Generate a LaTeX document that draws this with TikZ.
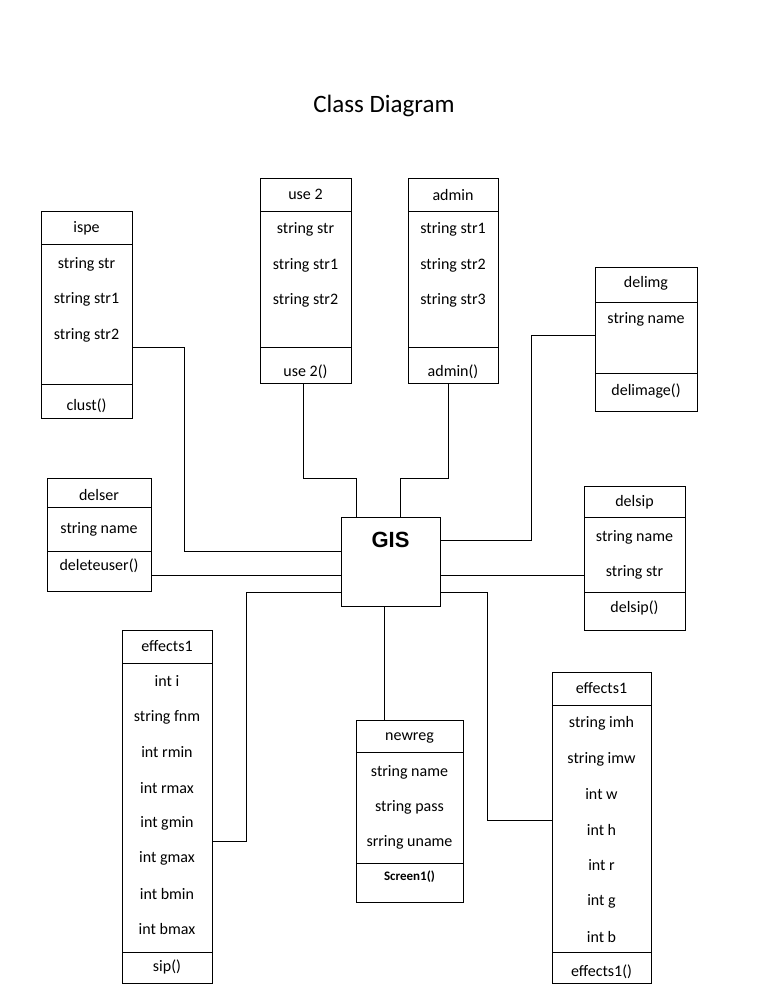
\documentclass[tikz,border=0pt]{standalone}
\usepackage{fontspec}
\setmainfont{Carlito}
\newfontfamily\gisfont{Liberation Sans}
\usetikzlibrary{positioning}

\begin{document}
\begin{tikzpicture}[
    x=1pt, y=-1pt,
    line width=1pt,
    every node/.style={font=\fontsize{16}{19}\selectfont},
    cls/.style={rectangle, draw, inner sep=0pt, outer sep=0pt, fill=white},
    txt/.style={inner sep=1pt, anchor=center, yshift=-1.5pt},
    link/.style={draw, line width=1pt}
]
\useasboundingbox (0,0) rectangle (768,994);

% Titel
\node[font=\fontsize{25}{29}\selectfont] (title) at (384,106) {Class Diagram};

% Klassen
\node[cls, minimum width=99pt, minimum height=89pt] (gis) at (390.5,561.5) {};
\node[txt, font=\gisfont\bfseries\fontsize{22}{26}\selectfont] (gis-h) at (390.5,538) {GIS};

\node[cls, minimum width=91pt, minimum height=207pt] (ispe) at (86.5,314.5) {};
\node[txt] (ispe-h) at (86.5,227) {ispe};
\foreach \attr [count=\i] in {string str, string str1, string str2}
  \node[txt] (ispe-\i) at (86.5,{263+35.2*(\i-1)}) {\attr};
\node[txt] (ispe-m) at (86.5,404) {clust()};
\draw (ispe.west |- 0,244) -- (ispe.east |- 0,244) (ispe.west |- 0,384) -- (ispe.east |- 0,384);

\node[cls, minimum width=91pt, minimum height=205pt] (use2) at (305.5,280.5) {};
\node[txt] (use2-h) at (305.5,193) {use 2};
\foreach \attr [count=\i] in {string str, string str1, string str2}
  \node[txt] (use2-\i) at (305.5,{228+35.5*(\i-1)}) {\attr};
\node[txt] (use2-m) at (305.5,370) {use 2()};
\draw (use2.west |- 0,211) -- (use2.east |- 0,211) (use2.west |- 0,347) -- (use2.east |- 0,347);

\node[cls, minimum width=90pt, minimum height=205pt] (admin) at (453,280.5) {};
\node[txt] (admin-h) at (453,193) {admin};
\foreach \attr [count=\i] in {string str1, string str2, string str3}
  \node[txt] (admin-\i) at (453,{228+35.5*(\i-1)}) {\attr};
\node[txt] (admin-m) at (453,370) {admin()};
\draw (admin.west |- 0,211) -- (admin.east |- 0,211) (admin.west |- 0,347) -- (admin.east |- 0,347);

\node[cls, minimum width=102pt, minimum height=144pt] (delimg) at (646,339) {};
\node[txt] (delimg-h) at (646,282) {delimg};
\node[txt] (delimg-1) at (646,318) {string name};
\node[txt] (delimg-m) at (646,390) {delimage()};
\draw (delimg.west |- 0,302) -- (delimg.east |- 0,302) (delimg.west |- 0,373) -- (delimg.east |- 0,373);

\node[cls, minimum width=104pt, minimum height=113pt] (delser) at (99,534.5) {};
\node[txt] (delser-h) at (99,493) {delser};
\node[txt] (delser-1) at (99,528) {string name};
\node[txt] (delser-m) at (99,564) {deleteuser()};
\draw (delser.west |- 0,507) -- (delser.east |- 0,507) (delser.west |- 0,551) -- (delser.east |- 0,551);

\node[cls, minimum width=101pt, minimum height=144pt] (delsip) at (634.5,558) {};
\node[txt] (delsip-h) at (634.5,501) {delsip};
\foreach \attr [count=\i] in {string name, string str}
  \node[txt] (delsip-\i) at (634.5,{536+35*(\i-1)}) {\attr};
\node[txt] (delsip-m) at (634.5,606) {delsip()};
\draw (delsip.west |- 0,517) -- (delsip.east |- 0,517) (delsip.west |- 0,592) -- (delsip.east |- 0,592);

\node[cls, minimum width=90pt, minimum height=353pt] (effl) at (167,806.5) {};
\node[txt] (effl-h) at (167,645) {effects1};
\foreach \attr [count=\i] in {int i, string fnm, int rmin, int rmax, int gmin, int gmax, int bmin, int bmax}
  \node[txt] (effl-\i) at (167,{680+35.4*(\i-1)}) {\attr};
\node[txt] (effl-m) at (167,965) {sip()};
\draw (effl.west |- 0,663) -- (effl.east |- 0,663) (effl.west |- 0,952) -- (effl.east |- 0,952);

\node[cls, minimum width=107pt, minimum height=182pt] (newreg) at (409.5,811) {};
\node[txt] (newreg-h) at (409.5,736) {newreg};
\foreach \attr [count=\i] in {string name, string pass, srring uname}
  \node[txt] (newreg-\i) at (409.5,{771+35*(\i-1)}) {\attr};
\node[txt, font=\bfseries\fontsize{13}{16}\selectfont] (newreg-m) at (409.5,875) {Screen1()};
\draw (newreg.west |- 0,752) -- (newreg.east |- 0,752) (newreg.west |- 0,863) -- (newreg.east |- 0,863);

\node[cls, minimum width=99pt, minimum height=311pt] (effr) at (601.5,827.5) {};
\node[txt] (effr-h) at (601.5,687) {effects1};
\foreach \attr [count=\i] in {string imh, string imw, int w, int h, int r, int g, int b}
  \node[txt] (effr-\i) at (601.5,{722+35.5*(\i-1)}) {\attr};
\node[txt] (effr-m) at (601.5,970) {effects1()};
\draw (effr.west |- 0,705) -- (effr.east |- 0,705) (effr.west |- 0,952) -- (effr.east |- 0,952);

% Linien
\draw[link] (ispe.east |- 0,347) -| (184,551) -- (gis.west |- 0,551);
\draw[link] (use2.south -| 303,0) |- (356,478) -- (gis.north -| 356,0);
\draw[link] (admin.south -| 448,0) |- (400,478) -- (gis.north -| 400,0);
\draw[link] (delimg.west |- 0,335) -| (531,540) -- (gis.east |- 0,540);
\draw[link] (delser.east |- 0,575) -- (gis.west |- 0,575);
\draw[link] (gis.east |- 0,575) -- (delsip.west |- 0,575);
\draw[link] (effl.east |- 0,841) -| (246,592) -- (gis.west |- 0,592);
\draw[link] (gis.south -| 384,0) -- (newreg.north -| 384,0);
\draw[link] (gis.east |- 0,592) -| (487,820) -- (effr.west |- 0,820);

\end{tikzpicture}
\end{document}
